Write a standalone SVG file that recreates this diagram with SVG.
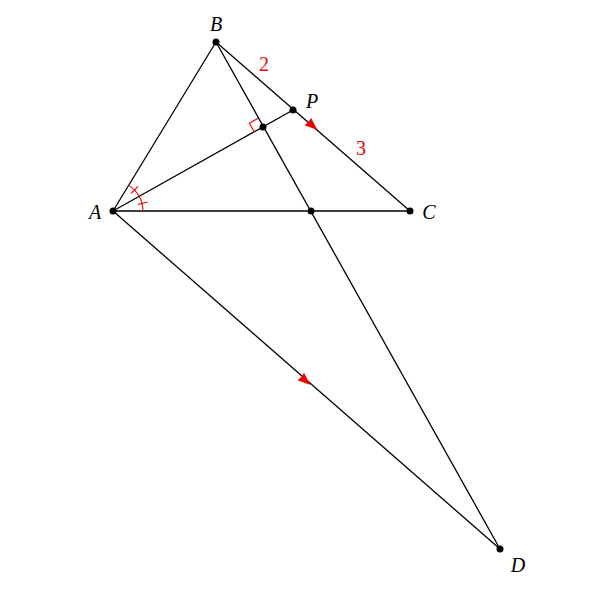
<svg xmlns="http://www.w3.org/2000/svg" width="600" height="591" viewBox="0 0 600 591">
<style>
.ln{stroke:#000;stroke-width:1.3;fill:none}
.rd{stroke:#e00;stroke-width:1.1;fill:none}
.pt{fill:#000}
.lb{font-family:"Liberation Serif",serif;font-style:italic;font-size:20px;fill:#000}
.nm{font-family:"Liberation Serif",serif;font-size:20px;fill:#e00}
</style>
<defs>
<path id="arr" d="M6,0 L-7,-5 L-6,0 L-7,5 Z" fill="#e00"/>
</defs>
<rect width="600" height="591" fill="#fff"/>
<g id="connectors">
<line class="ln" x1="113" y1="211" x2="216" y2="42"/>
<line class="ln" x1="113" y1="211" x2="410" y2="211"/>
<line class="ln" x1="216" y1="42" x2="410" y2="211"/>
<line class="ln" x1="113" y1="211" x2="293" y2="110"/>
<line class="ln" x1="216" y1="42" x2="500" y2="549"/>
<line class="ln" x1="113" y1="211" x2="500" y2="549"/>
<use href="#arr" transform="translate(313,126) rotate(41.06)"/>
<use href="#arr" transform="translate(306,381) rotate(41.13)"/>
<path class="rd" d="M143,211 A30,30 0 0 0 128.6,185.4"/>
<line class="rd" x1="137.8" y1="204.5" x2="147.5" y2="202"/>
<line class="rd" x1="131.1" y1="193.6" x2="138" y2="186.4"/>
<path class="rd" d="M258.2,118.3 L249.4,123.1 L254.3,131.9"/>
</g>
<g id="A"><circle class="pt" cx="113" cy="211" r="3.5"/><text class="lb" x="95" y="219" text-anchor="middle">A</text></g>
<g id="B"><circle class="pt" cx="216" cy="42" r="3.5"/><text class="lb" x="216" y="31" text-anchor="middle">B</text></g>
<g id="C"><circle class="pt" cx="410" cy="211" r="3.5"/><text class="lb" x="429" y="219" text-anchor="middle">C</text></g>
<g id="D"><circle class="pt" cx="500" cy="549" r="3.5"/><text class="lb" x="518" y="572" text-anchor="middle">D</text></g>
<g id="P"><circle class="pt" cx="293" cy="110" r="3.5"/><text class="lb" x="312" y="108" text-anchor="middle">P</text></g>
<g id="H"><circle class="pt" cx="263" cy="127" r="3.5"/></g>
<g id="E"><circle class="pt" cx="311" cy="211" r="3.5"/></g>
<g id="labels">
<text class="nm" x="264" y="71" text-anchor="middle">2</text>
<text class="nm" x="361" y="155" text-anchor="middle">3</text>
</g>
</svg>
